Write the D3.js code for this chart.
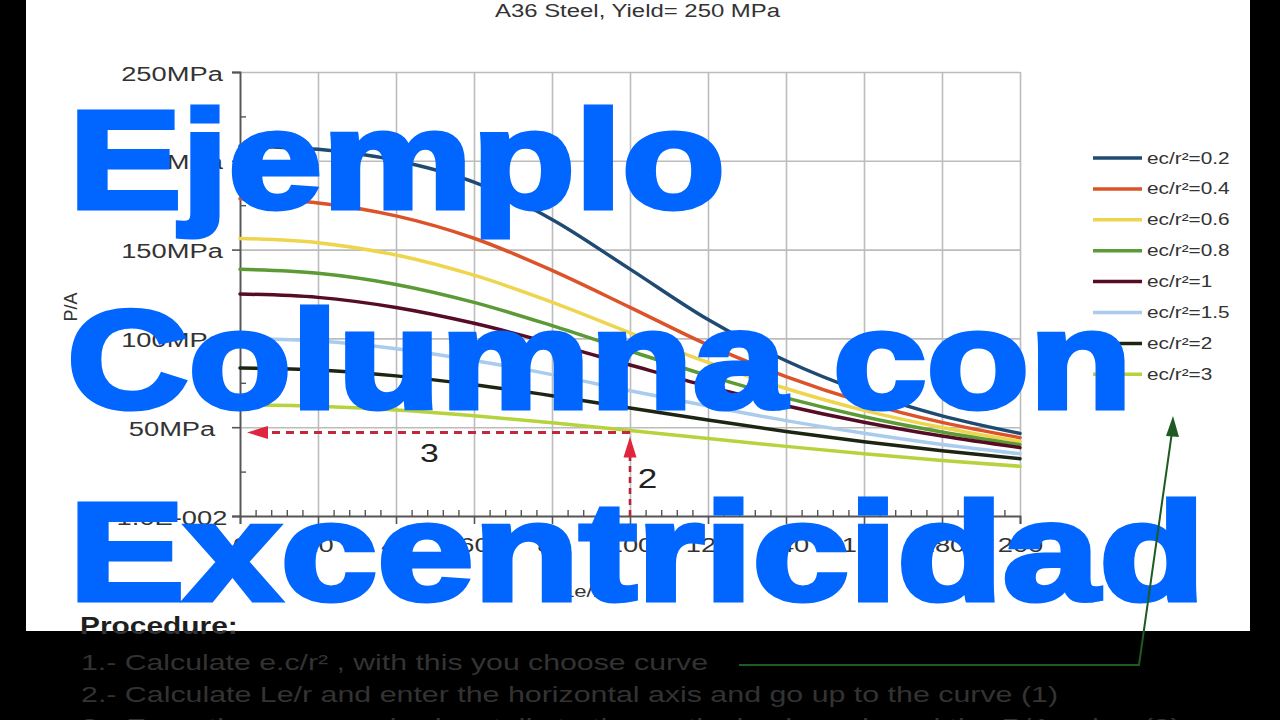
<!DOCTYPE html>
<html>
<head>
<meta charset="utf-8">
<script src="https://cdn.jsdelivr.net/npm/d3@7"></script>
<style>
  html, body { margin: 0; padding: 0; background: #000; overflow: hidden; }
</style>
</head>
<body>
<svg id="chart" width="1280" height="720"></svg>
<script>
// Le/r sample points and P/A (MPa)
const leR = [0, 20, 40, 60, 80, 100, 120, 140, 160, 180, 200];
const ecLabels = ["0.2", "0.4", "0.6", "0.8", "1", "1.5", "2", "3"];
const pa02 = [208.3, 206.5, 200.2, 188.0, 167.0, 139.0, 110.6, 87.4, 69.7, 56.4, 46.5];
const pa04 = [178.6, 176.3, 169.0, 156.4, 138.3, 117.5, 96.3, 78.5, 64.0, 52.7, 44.1];
const pa06 = [156.3, 153.9, 147.0, 135.6, 120.4, 103.1, 86.5, 71.8, 59.5, 49.8, 42.0];
const pa08 = [138.9, 136.7, 130.4, 120.3, 107.2, 92.9, 79.0, 66.5, 55.9, 47.3, 40.2];
const pa10 = [125.0, 123.1, 117.4, 108.5, 97.2, 85.0, 73.0, 62.1, 52.8, 45.0, 38.5];
const pa15 = [100.0, 98.5, 94.2, 87.6, 79.6, 70.5, 61.9, 53.7, 46.6, 40.3, 35.1];
const pa20 = [83.3, 82.2, 78.9, 73.9, 67.7, 60.8, 54.1, 47.6, 41.8, 36.7, 32.3];
const pa30 = [62.5, 61.8, 59.7, 56.5, 52.5, 48.1, 43.6, 39.2, 35.1, 31.3, 28.0];
const seriesValues = [pa02, pa04, pa06, pa08, pa10, pa15, pa20, pa30];
const seriesColors = ["#1f4a72", "#dd5329", "#efd54e", "#5b9a34", "#560c26", "#a9cbec", "#1b2512", "#b6d23c"];

const xTickValues = [0, 20, 40, 60, 80, 100, 120, 140, 160, 180, 200];
const yTickValues = [0, 50, 100, 150, 200, 250];
const yMinorValues = [25, 75, 125, 175, 225];

// worked example read on the chart
const guideLeR = 100;
const guidePA = 47;

const titleText = "A36 Steel, Yield= 250 MPa";
const procedureTitle = "Procedure:";
const procedureLines = [
  "1.- Calculate e.c/r\u00B2 , with this you choose curve",
  "2.- Calculate Le/r and enter the horizontal axis and go up to the curve (1)",
  "3.- From the curve go horizontally to the vertical axis and read the P/A value (3)"
];
const bigTitle = ["Ejemplo", "Columna con", "Excentricidad"];

const FONT = "'Liberation Sans', Arial, Helvetica, sans-serif";
const SX = 1.3; // the screenshot is stretched sideways

const svg = d3.select("#chart");

svg.append("rect").attr("width", 1280).attr("height", 720).attr("fill", "#000");
svg.append("rect").attr("x", 26).attr("y", 0).attr("width", 1224).attr("height", 631).attr("fill", "#fff");

function sText(parent, px, py, str, size, anchor) {
  return parent.append("text")
    .attr("transform", `translate(${px},${py}) scale(${SX},1)`)
    .attr("text-anchor", anchor || "start")
    .attr("font-family", FONT)
    .attr("font-size", size)
    .attr("fill", "#333")
    .text(str);
}

const x = d3.scaleLinear().domain([0, 200]).range([240, 1020]);
const y = d3.scaleLinear().domain([0, 250]).range([516, 72]);
const plotW = x(200) - x(0);
const plotH = y(0) - y(250);

// title
svg.append("text")
  .attr("x", 495).attr("y", 17)
  .attr("font-family", FONT).attr("font-size", 18).attr("fill", "#333")
  .attr("textLength", 285).attr("lengthAdjust", "spacingAndGlyphs")
  .text(titleText);

// grid
svg.append("g")
  .attr("transform", `translate(0,${y(0)})`)
  .call(d3.axisBottom(x).tickValues(xTickValues).tickSize(-plotH).tickFormat(""))
  .call(g => g.select(".domain").remove())
  .selectAll("line").attr("stroke", "#bcbcbc").attr("stroke-width", 1.6);

svg.append("g")
  .attr("transform", `translate(${x(0)},0)`)
  .call(d3.axisLeft(y).tickValues(yTickValues.filter(v => v > 0)).tickSize(-plotW).tickFormat(""))
  .call(g => g.select(".domain").remove())
  .selectAll("line").attr("stroke", "#bcbcbc").attr("stroke-width", 1.6);

// x axis
const xMinor = d3.range(0, 201, 4).filter(v => v % 20 !== 0);
svg.append("g")
  .attr("transform", `translate(0,${y(0)})`)
  .call(d3.axisBottom(x).tickValues(xMinor).tickSize(-6).tickFormat(""))
  .call(g => g.select(".domain").remove())
  .selectAll("line").attr("stroke", "#555").attr("stroke-width", 1.4);

const xAxis = svg.append("g")
  .attr("transform", `translate(0,${y(0)})`)
  .call(d3.axisBottom(x).tickValues(xTickValues).tickSize(8).tickFormat(d => d));
xAxis.select(".domain").attr("stroke", "#555").attr("stroke-width", 1.8);
xAxis.selectAll(".tick line").attr("stroke", "#555").attr("stroke-width", 1.6);
xAxis.selectAll(".tick text")
  .attr("y", null).attr("dy", null)
  .attr("transform", `translate(0,36) scale(${SX},1)`)
  .attr("font-family", FONT).attr("font-size", 21).attr("fill", "#333");

// y axis
svg.append("g")
  .attr("transform", `translate(${x(0)},0)`)
  .call(d3.axisLeft(y).tickValues(yMinorValues).tickSize(-6).tickFormat(""))
  .call(g => g.select(".domain").remove())
  .selectAll("line").attr("stroke", "#555").attr("stroke-width", 1.4);

const yAxis = svg.append("g")
  .attr("transform", `translate(${x(0)},0)`)
  .call(d3.axisLeft(y).tickValues(yTickValues).tickSize(8)
    .tickFormat(d => d === 0 ? "1.0E-002" : d + "MPa"));
yAxis.select(".domain").attr("stroke", "#555").attr("stroke-width", 1.8);
yAxis.selectAll(".tick line").attr("stroke", "#555").attr("stroke-width", 1.6);
yAxis.selectAll(".tick text")
  .attr("x", null).attr("dy", null)
  .attr("text-anchor", "middle")
  .attr("transform", `translate(${172 - x(0)},8) scale(${SX},1)`)
  .attr("font-family", FONT).attr("font-size", 21).attr("fill", "#333");

sText(svg, 562, 597, "Le/r", 17, "start");
svg.append("text")
  .attr("transform", "translate(77,307) rotate(-90)")
  .attr("text-anchor", "middle")
  .attr("font-family", FONT).attr("font-size", 18).attr("fill", "#333")
  .text("P/A");

// curves
const line = d3.line()
  .x((d, i) => x(leR[i]))
  .y(d => y(d))
  .curve(d3.curveMonotoneX);

svg.append("g")
  .selectAll("path")
  .data(seriesValues)
  .join("path")
  .attr("d", line)
  .attr("fill", "none")
  .attr("stroke", (d, i) => seriesColors[i])
  .attr("stroke-width", 3.5)
  .attr("stroke-linecap", "round");

// legend
const legend = svg.append("g");
ecLabels.forEach((lab, i) => {
  const ry = 158 + i * 30.9;
  legend.append("line")
    .attr("x1", 1093).attr("x2", 1142).attr("y1", ry).attr("y2", ry)
    .attr("stroke", seriesColors[i]).attr("stroke-width", 3.5);
  sText(legend, 1147, ry + 5.5, "ec/r\u00B2=" + lab, 16, "start");
});

// worked example arrows
const gx = x(guideLeR), gy = y(guidePA);
svg.append("line")
  .attr("x1", gx).attr("x2", x(0) + 27).attr("y1", gy).attr("y2", gy)
  .attr("stroke", "#c4283c").attr("stroke-width", 3).attr("stroke-dasharray", "8,6");
svg.append("polygon")
  .attr("points", [[x(0) + 7, gy], [x(0) + 28, gy - 6.5], [x(0) + 28, gy + 6.5]].join(" "))
  .attr("fill", "#e0263f");
svg.append("line")
  .attr("x1", gx).attr("x2", gx).attr("y1", y(0)).attr("y2", gy + 24)
  .attr("stroke", "#b5263a").attr("stroke-width", 2.6).attr("stroke-dasharray", "6,5");
svg.append("polygon")
  .attr("points", [[gx, gy + 4], [gx - 6.5, gy + 25], [gx + 6.5, gy + 25]].join(" "))
  .attr("fill", "#e0263f");
sText(svg, 429.5, 462, "3", 26, "middle").attr("fill", "#222");
sText(svg, 647.5, 488, "2", 27, "middle").attr("fill", "#222");

// procedure text, bottom part sits on the dark band
const defs = svg.append("defs");
defs.append("clipPath").attr("id", "clipTop")
  .append("rect").attr("x", 0).attr("y", 0).attr("width", 1280).attr("height", 631);
defs.append("clipPath").attr("id", "clipBottom")
  .append("rect").attr("x", 0).attr("y", 631).attr("width", 1280).attr("height", 89);

[["clipTop", "#1e1e1e"], ["clipBottom", "#333"]].forEach(([clip, col]) => {
  svg.append("g").attr("clip-path", `url(#${clip})`)
    .append("text")
    .attr("transform", `translate(80,634) scale(${SX},1)`)
    .attr("font-family", FONT).attr("font-size", 23).attr("font-weight", "bold")
    .attr("fill", col)
    .text(procedureTitle);
});

const procLen = [627, 977, 1100];
procedureLines.forEach((s, i) => {
  svg.append("text")
    .attr("x", 81).attr("y", 670 + i * 32)
    .attr("font-family", FONT).attr("font-size", 22).attr("fill", "#333")
    .attr("textLength", procLen[i]).attr("lengthAdjust", "spacingAndGlyphs")
    .text(s);
});

// big overlay title (heavy: fill plus stroke)
const bigX = [69, 67, 69];
const bigY = [207.5, 407.5, 599.5];
const bigLen = [656, 1065, 1136];
bigTitle.forEach((s, i) => {
  svg.append("text")
    .attr("x", bigX[i]).attr("y", bigY[i])
    .attr("font-family", FONT).attr("font-weight", "bold").attr("font-size", 140)
    .attr("fill", "#0066ff")
    .attr("stroke", "#0066ff").attr("stroke-width", 5).attr("stroke-linejoin", "miter")
    .attr("textLength", bigLen[i]).attr("lengthAdjust", "spacingAndGlyphs")
    .text(s);
});

// pointer from step 1 to the legend
svg.append("path")
  .attr("d", d3.line()([[739, 665], [1139, 665], [1172, 432]]))
  .attr("fill", "none").attr("stroke", "#1f5a22").attr("stroke-width", 2);
svg.append("polygon")
  .attr("points", [[1173, 416], [1166, 436], [1179, 437]].join(" "))
  .attr("fill", "#1f5a22");
</script>
</body>
</html>
